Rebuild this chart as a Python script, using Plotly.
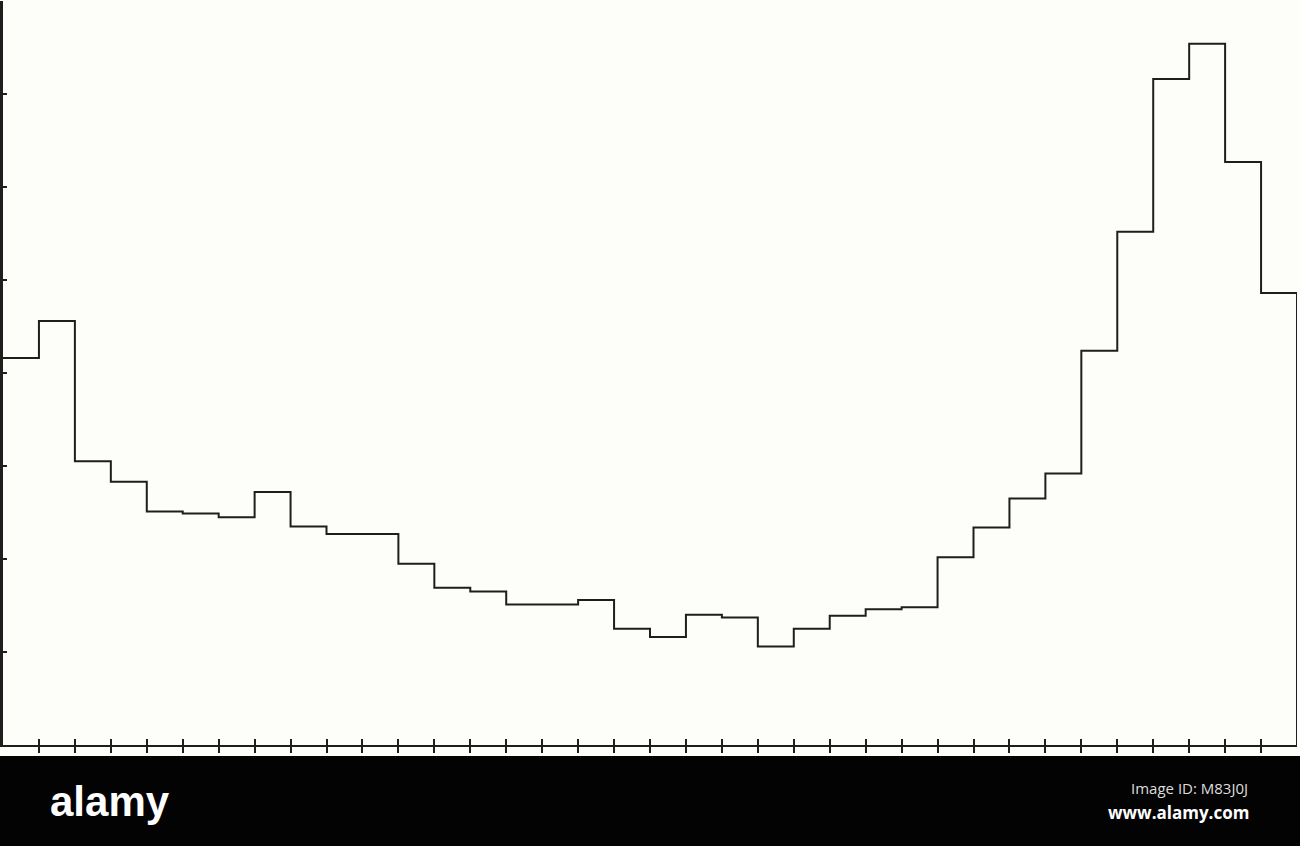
import plotly.graph_objects as go

# histogram values, 36 equal-width bins (bin index 0..35)
bin_edges = list(range(0, 37))
counts = [4.16, 4.56, 3.05, 2.83, 2.51, 2.49, 2.45, 2.72, 2.35, 2.27,
          2.27, 1.95, 1.69, 1.65, 1.51, 1.51, 1.56, 1.25, 1.16, 1.40,
          1.37, 1.06, 1.25, 1.39, 1.46, 1.48, 2.02, 2.34, 2.65, 2.92,
          4.24, 5.52, 7.16, 7.54, 6.27, 4.86]
x_ticks = list(range(1, 36))
y_ticks = list(range(0, 9))

# step outline
xs = bin_edges[:-1] + [bin_edges[-1], bin_edges[-1]]
ys = counts + [counts[-1], 0]

line_col = "#1e1e1e"
fig = go.Figure()
fig.add_trace(go.Scatter(x=xs, y=ys, mode="lines", line=dict(color=line_col, width=2, shape="hv"),
                         showlegend=False, hoverinfo="skip"))
# invisible trace on second x axis for crossing ticks
fig.add_trace(go.Scatter(x=[0, 36], y=[0, 0], xaxis="x2", mode="lines",
                         line=dict(width=0), showlegend=False, hoverinfo="skip"))

W, H = 1300, 846
L, R, T, B = 3, 3, 1, 101

fig.update_layout(
    width=W, height=H,
    margin=dict(l=L, r=R, t=T, b=B, pad=0),
    paper_bgcolor="#fdfdf9",
    plot_bgcolor="#fdfdf9",
    xaxis=dict(range=[0, 36], tickvals=x_ticks, ticks="outside", ticklen=6, tickwidth=2,
               tickcolor=line_col, showticklabels=False, showgrid=False, zeroline=False,
               showline=True, linecolor=line_col, linewidth=2),
    xaxis2=dict(range=[0, 36], overlaying="x", side="bottom", tickvals=x_ticks, ticks="inside",
                ticklen=6, tickwidth=2, tickcolor=line_col, showticklabels=False,
                showgrid=False, zeroline=False, showline=False),
    yaxis=dict(range=[0, 8], tickvals=y_ticks, ticks="inside", ticklen=4, tickwidth=2,
               tickcolor=line_col, showticklabels=False, showgrid=False, zeroline=False,
               showline=True, linecolor=line_col, linewidth=3),
)

# black watermark band below the chart
ph = H - T - B
def py(pix):
    return (H - B - pix) / ph
def px(pix):
    return (pix - L) / (W - L - R)

fig.add_shape(type="rect", xref="paper", yref="paper",
              x0=px(-5), x1=px(W + 5), y0=py(756), y1=py(H + 5),
              fillcolor="#030303", line=dict(width=0), layer="above")

fig.add_annotation(text="<b>alamy</b>", xref="paper", yref="paper",
                   x=px(48), y=py(801), xanchor="left", yanchor="middle", showarrow=False,
                   font=dict(family="Liberation Sans", size=42, color="#ffffff"))
fig.add_annotation(text="Image ID: M83J0J", xref="paper", yref="paper",
                   x=px(1250), y=py(788), xanchor="right", yanchor="middle", showarrow=False,
                   font=dict(family="Open Sans", size=15, color="#dddddd"))
fig.add_annotation(text="<b>www.alamy.com</b>", xref="paper", yref="paper",
                   x=px(1251), y=py(812), xanchor="right", yanchor="middle", showarrow=False,
                   font=dict(family="Open Sans", size=17, color="#ffffff"))

fig.write_html("out.html", config={"displayModeBar": False},
               post_script="document.body.style.margin='0';")
